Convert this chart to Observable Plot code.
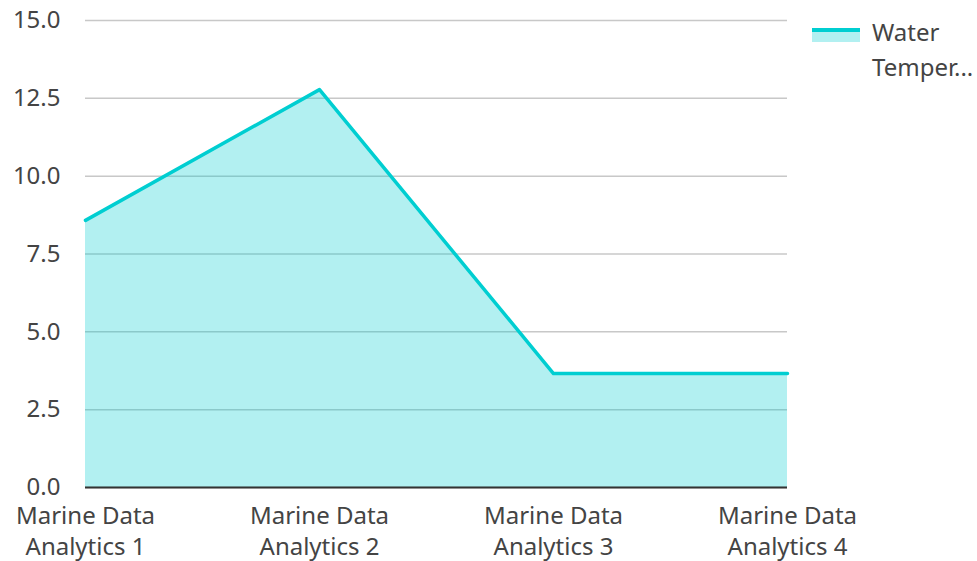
<!DOCTYPE html>
<html>
<head>
<meta charset="utf-8">
<script src="https://cdn.jsdelivr.net/npm/d3@7"></script>
<script src="https://cdn.jsdelivr.net/npm/@observablehq/plot@0.6"></script>
<style>
  html, body { margin: 0; padding: 0; background: #fff; }
  #wrap { position: relative; width: 977px; height: 561px; font-family: "Noto Sans", "Open Sans", sans-serif; }
  #legend { position: absolute; left: 812px; top: 14px; display: flex; align-items: flex-start; color: #444; font-size: 24px; line-height: 35px; }
  #legend .sw { width: 48px; height: 14px; margin-top: 14px; margin-right: 12px; background: rgba(0,206,209,0.3); border-top: 4px solid #00CED1; box-sizing: border-box; }
</style>
</head>
<body>
<div id="wrap">
  <div id="chart"></div>
  <div id="legend"><div class="sw"></div><div id="legtext"></div></div>
</div>
<script>
const categories = ["Marine Data Analytics 1", "Marine Data Analytics 2", "Marine Data Analytics 3", "Marine Data Analytics 4"];
const waterTemperature = [8.58, 12.78, 3.66, 3.66];
const yTicks = [0, 2.5, 5, 7.5, 10, 12.5, 15];
const seriesName = "Water Temper...";

const data = categories.map((c, i) => ({ category: c, value: waterTemperature[i] }));
const color = "#00CED1";

const chart = Plot.plot({
  width: 977,
  height: 561,
  marginLeft: 85,
  marginRight: 190,
  marginTop: 20,
  marginBottom: 74,
  style: { fontFamily: "'Noto Sans', 'Open Sans', sans-serif", fontSize: "24px", color: "#444", background: "#fff", overflow: "visible" },
  x: { type: "point", domain: categories, padding: 0, label: null },
  y: { domain: [0, 15], label: null },
  marks: [
    Plot.gridY(yTicks, { stroke: "#c8c8c8", strokeOpacity: 1, strokeWidth: 1.5 }),
    Plot.areaY(data, { x: "category", y: "value", fill: color, fillOpacity: 0.3 }),
    Plot.lineY(data, { x: "category", y: "value", stroke: color, strokeWidth: 3.5 }),
    Plot.ruleY([0], { stroke: "#333", strokeWidth: 2 }),
    Plot.axisY(yTicks, { tickSize: 0, tickPadding: 25, tickFormat: d => d.toFixed(1), fill: "#444", fontSize: 24, label: null }),
    Plot.axisX({ tickSize: 0, tickPadding: 15, tickFormat: d => d.replace(" Analytics", "\nAnalytics"), lineHeight: 1.29, fill: "#444", fontSize: 24, label: null })
  ]
});
document.getElementById("chart").appendChild(chart);
document.getElementById("legtext").innerHTML = seriesName.split(" ").join("<br>");
</script>
</body>
</html>
